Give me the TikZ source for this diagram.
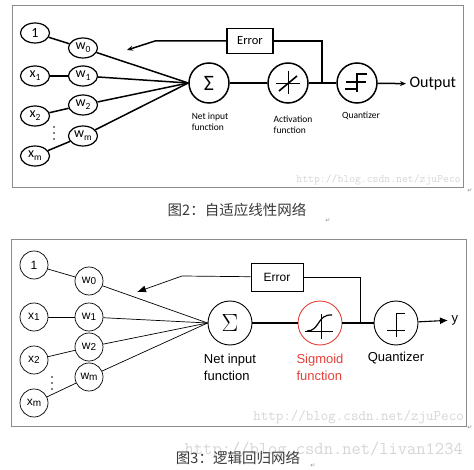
\documentclass[tikz,border=0pt]{standalone}
\usepackage{fontspec}
\usetikzlibrary{shapes.geometric,arrows.meta}
\newfontfamily\calib{Carlito}
\newfontfamily\lsans{Liberation Sans}
\newfontfamily\cjk{Noto Sans CJK SC}
\newfontfamily\symfont{DejaVu Sans}
\definecolor{FrameGray}{HTML}{8C8C8C}
\definecolor{CapGray}{HTML}{3A3A3A}
\definecolor{MarkGray}{HTML}{D6D6D6}
\definecolor{SigRed}{HTML}{E5413A}
\newcommand\lowA[1]{\raisebox{-0.45ex}{\fontsize{9.5}{9.5}\selectfont #1}}
\newcommand\lowB[1]{\raisebox{-0.2ex}{\fontsize{10}{10}\selectfont #1}}

\begin{document}
\begin{tikzpicture}[x=1pt,y=-1pt,
    inA/.style={ellipse,draw,line width=1.2pt,minimum width=29pt,minimum height=20pt,inner sep=0pt,font=\calib\fontsize{14}{14}\selectfont},
    unitA/.style={circle,draw,line width=1.5pt,minimum size=40pt,inner sep=0pt},
    wireA/.style={line width=1.5pt},
    labA/.style={font=\calib\fontsize{9.5}{11.5}\selectfont,align=left},
    errboxA/.style={draw,line width=1.3pt,minimum width=46pt,minimum height=25pt,font=\calib\fontsize{12.5}{13}\selectfont},
    inB/.style={circle,draw,line width=0.7pt,minimum size=28pt,inner sep=0pt,font=\lsans\fontsize{12}{12}\selectfont},
    unitB/.style={circle,draw,line width=0.9pt,minimum size=44pt,inner sep=0pt},
    wireB/.style={line width=0.7pt},
    labB/.style={font=\lsans\fontsize{13}{17}\selectfont,align=left},
    errboxB/.style={draw,line width=0.7pt,minimum width=52pt,minimum height=28pt,font=\lsans\fontsize{12}{13}\selectfont},
    frame/.style={draw=FrameGray,line width=0.8pt},
    wmark/.style={text=MarkGray,anchor=east,inner sep=0pt},
    retmark/.style={text=FrameGray,font=\symfont\fontsize{6}{6}\selectfont,inner sep=0pt},
    caption/.style={text=CapGray,font=\cjk\fontsize{14.5}{15}\selectfont}]
  \fill[white] (0,0) rectangle (474,470);
  \useasboundingbox (0,0) rectangle (474,470);

  % --- Adaline ---
  \draw[frame] (12,5) rectangle (463,187);
  \node[wmark,font=\ttfamily\fontsize{11.4}{12}\selectfont] (markA) at (461,180) {http://blog.csdn.net/zjuPeco};
  \node[inA] (oneA) at (35,33) {1};
  \node[inA] (w0A) at (83,48) {w\lowA{0}};
  \node[inA] (x1A) at (35,76) {x\lowA{1}};
  \node[inA] (w1A) at (83,76) {w\lowA{1}};
  \node[inA] (x2A) at (35,116) {x\lowA{2}};
  \node[inA] (w2A) at (83,105) {w\lowA{2}};
  \node[inA] (wmA) at (83,136) {w\lowA{m}};
  \node[inA] (xmA) at (35,156) {x\lowA{m}};
  \foreach \y in {127,133,139}
    \fill (54,\y) circle (0.9pt);
  \node[unitA] (sumA) at (209,83) {\calib\fontsize{22}{22}\selectfont Σ};
  \node[unitA] (actA) at (288,83) {};
  \node[unitA] (qntA) at (357,83) {};
  \node[font=\calib\fontsize{16}{16}\selectfont,anchor=west] (outA) at (406,84) {Output};
  \node[errboxA] (errA) at (250,41) {Error};
  \node[labA] (sumlabA) at (210,122) {Net input\\function};
  \node[labA] (actlabA) at (293,125) {Activation\\function};
  \node[labA] (qntlabA) at (361,116) {Quantizer};
  \coordinate (jnA) at (322,83);
  \coordinate (bendA) at (155,41);
  \coordinate (tipA) at (127,50);

  \draw[wireA] (oneA) -- (w0A);
  \draw[wireA] (x1A) -- (w1A);
  \draw[wireA] (x2A) -- (w2A);
  \draw[wireA] (xmA) -- (wmA);
  \foreach \w in {w0A,w1A,w2A,wmA}
    \draw[wireA] (\w) -- (sumA.west);
  \draw[wireA] (sumA) -- (actA);
  \draw[wireA] (actA) -- (qntA);
  \draw[wireA,-{Stealth[length=6pt,width=5pt]}] (qntA) -- (outA);
  \draw[wireA] (jnA) |- (errA);
  \draw[wireA,-{Stealth[length=6pt,width=5pt]}] (errA) -- (bendA) -- (tipA);

  \begin{scope}[shift={(actA.center)}]
    \draw[line width=0.9pt] (0,-12) -- (0,11) (-12,0) -- (12,0);
    \draw[line width=1.6pt] (-9,8) -- (9,-7);
  \end{scope}
  \begin{scope}[shift={(qntA.center)},line width=1.2pt]
    \draw (0,9) -- (0,-9) -- (10,-9);
    \draw (-11,-1) -- (9,-1);
    \draw (-12,6) -- (0,6);
  \end{scope}

  \node[retmark] (retA) at (470,191) {↵};
  \node[caption] (capA) at (237,210) {图2：自适应线性网络};
  \node[retmark] (retB) at (328,221) {↵};

  % --- logistic regression ---
  \draw[frame] (11,239) rectangle (466,426);
  \node[wmark,font=\ttfamily\fontsize{14.6}{15}\selectfont] (markB) at (464,417) {http://blog.csdn.net/zjuPeco};
  \node[inB] (oneB) at (34,265) {1};
  \node[inB] (w0B) at (89,281) {w\lowB{0}};
  \node[inB] (x1B) at (34,317) {x\lowB{1}};
  \node[inB] (w1B) at (89,317) {w\lowB{1}};
  \node[inB] (x2B) at (34,360) {x\lowB{2}};
  \node[inB] (w2B) at (89,347) {w\lowB{2}};
  \node[inB] (wmB) at (89,377) {w\lowB{m}};
  \node[inB] (xmB) at (34,403) {x\lowB{m}};
  \foreach \y in {377,383,389}
    \fill (52,\y) circle (0.8pt);
  \node[unitB] (sumB) at (230,323) {\Huge$\Sigma$};
  \node[unitB,draw=SigRed] (sigB) at (320,323) {};
  \node[unitB] (qntB) at (396,323) {};
  \node[font=\lsans\fontsize{13}{13}\selectfont,anchor=west] (outB) at (448,320) {y};
  \node[errboxB] (errB) at (277,277) {Error};
  \node[labB] (sumlabB) at (230,367) {Net input\\function};
  \node[labB,text=SigRed] (siglabB) at (320,367) {Sigmoid\\function};
  \node[labB] (qntlabB) at (396,358) {Quantizer};
  \coordinate (jnB) at (360,323);
  \coordinate (bendB) at (182,276);
  \coordinate (tipB) at (137,292);

  \draw[wireB] (oneB) -- (w0B);
  \draw[wireB] (x1B) -- (w1B);
  \draw[wireB] (x2B) -- (w2B);
  \draw[wireB] (xmB) -- (wmB);
  \foreach \w in {w0B,w1B,w2B,wmB}
    \draw[wireB] (\w) -- (sumB.west);
  \draw[line width=1.1pt] (sumB) -- (sigB);
  \draw[line width=1.1pt] (sigB) -- (qntB);
  \draw[line width=1.1pt,-{Latex[length=8pt,width=7pt]}] (qntB) -- (outB);
  \draw[wireB] (jnB) |- (errB);
  \draw[wireB,-{Latex[length=9pt,width=7pt]}] (errB) -- (bendB) -- (tipB);

  \begin{scope}[shift={(sigB.center)},line width=1pt]
    \draw (-15,9) -- (13,9) (1,-9) -- (1,16);
    \draw[line width=1.2pt] (-13,8) .. controls (0,8) and (-3,-9) .. (12,-8);
  \end{scope}
  \begin{scope}[shift={(qntB.center)},line width=1pt]
    \draw (0,14) -- (0,-9) -- (9,-9);
    \draw (-9,8) -- (9,8);
  \end{scope}

  \node[retmark] (retC) at (470,428) {↵};
  \node[wmark,font=\ttfamily\fontsize{18}{18}\selectfont] (markC) at (463,450) {http://blog.csdn.net/livan1234};
  \node[caption] (capB) at (238,458) {图3：逻辑回归网络};
  \node[retmark] (retD) at (313,466) {↵};
\end{tikzpicture}
\end{document}
